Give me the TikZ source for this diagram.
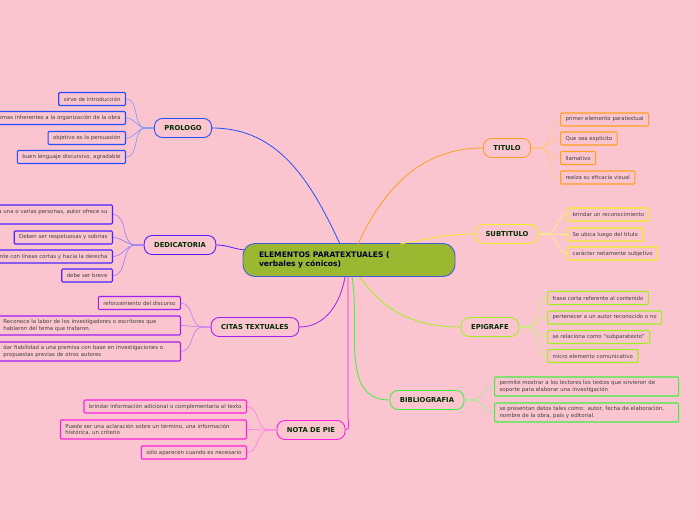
\documentclass[tikz,border=0pt]{standalone}
\usepackage{fontspec}
\setmainfont{DejaVu Sans}
\begin{document}
\begin{tikzpicture}[x=1pt,y=1pt,
  br/.style={draw=#1,line width=0.9pt,rounded corners=8pt,fill=none,minimum height=19pt,inner xsep=10pt,font=\bfseries\fontsize{6.8}{7.5}\selectfont,text=black!70!green!60!black},
  lf/.style={draw=#1,line width=1.1pt,rounded corners=1pt,minimum height=13pt,inner xsep=5pt,inner ysep=2pt,font=\fontsize{5.4}{6.4}\selectfont,text=black!75,align=left},
  mc/.style={draw=#1,line width=0.8pt},
  lc/.style={draw=#1!60!white,line width=0.6pt}]
\definecolor{bg}{HTML}{FBC5D0}
\definecolor{cP}{HTML}{2A4CFF}
\definecolor{cD}{HTML}{5020FF}
\definecolor{cC}{HTML}{A020F0}
\definecolor{cN}{HTML}{FF20E0}
\definecolor{cT}{HTML}{FFA020}
\definecolor{cS}{HTML}{F0F020}
\definecolor{cE}{HTML}{A0F020}
\definecolor{cB}{HTML}{40F040}
\definecolor{cen}{HTML}{9CB830}
\fill[bg] (0,0) rectangle (697,-520);
\useasboundingbox (0,0) rectangle (697,-520);
% central
\node[draw=cP!70!gray,line width=0.9pt,fill=cen,rounded corners=12pt,minimum width=212pt,minimum height=33pt,text width=180pt,font=\bfseries\fontsize{7.6}{9}\selectfont,align=left,text=black!80!blue] (c) at (349,-260) {ELEMENTOS PARATEXTUALES (\\verbales y cónicos)};
% branches
\node[br=cP] (P) at (183,-128) {PROLOGO};
\node[br=cD] (D) at (180,-245) {DEDICATORIA};
\node[br=cC] (C) at (255,-327) {CITAS TEXTUALES};
\node[br=cN] (N) at (311,-430) {NOTA DE PIE};
\node[br=cT] (T) at (507,-148) {TITULO};
\node[br=cS] (S) at (507,-234) {SUBTITULO};
\node[br=cE] (E) at (490,-327) {EPIGRAFE};
\node[br=cB] (B) at (427,-400) {BIBLIOGRAFIA};
\coordinate (cP0) at (340,-244);
\coordinate (cD0) at (245,-250);
\coordinate (cC0) at (345,-277);
\coordinate (cN0) at (348,-277);
\coordinate (cT0) at (358,-244);
\coordinate (cS0) at (400,-244);
\coordinate (cE0) at (360,-277);
\coordinate (cB0) at (352,-277);
\draw[mc=cP] (cP0) to[out=115,in=0] (P.east);
\draw[mc=cD] (cD0) to[out=175,in=0] (D.east);
\draw[mc=cC] (cC0) to[out=-100,in=0] (C.east);
\draw[mc=cN] (cN0) -- ++(0,-140) to[out=-90,in=0] (N.east);
\draw[mc=cT] (cT0) to[out=65,in=180] (T.west);
\draw[mc=cS] (cS0) to[out=10,in=180] (S.west);
\draw[mc=cE] (cE0) to[out=-55,in=180] (E.west);
\draw[mc=cB] (cB0) to[out=-80,in=180] (B.west);
% leaves left
\foreach \n/\y/\t in {p1/99/sirve de introducción,p2/118/Temas inherentes a la organización de la obra,p3/138/objetivo es la persuasión,p4/157/{buen lenguaje discursivo, agradable}}
  {\node[lf=cP,anchor=east] (\n) at (126,-\y) {\t}; \draw[lc=cP] (P.west) -- ++(-8,0) to[out=180,in=0] (\n.east);}
\node[lf=cD,anchor=east,minimum height=19pt,text depth=7pt] (d1) at (113,-214.5) {Dedicada a una o varias personas, autor ofrece su};
\foreach \n/\y/\t in {d2/237.5/Deben ser respetuosas y sobrias,d3/256.5/Se escribe generalmente con líneas cortas y hacia la derecha,d4/275.5/debe ser breve}
  {\node[lf=cD,anchor=east] (\n) at (113,-\y) {\t};}
\foreach \n in {d1,d2,d3,d4}{\draw[lc=cD] (D.west) -- ++(-8,0) to[out=180,in=0] (\n.east);}
\node[lf=cC,anchor=east] (c1) at (181,-303) {reforzamiento del discurso};
\node[lf=cC,anchor=east,text width=172pt,minimum height=19pt] (c2) at (181,-325.5) {Reconoce la labor de los investigadores o escritores que\\hablaron del tema que trataron.};
\node[lf=cC,anchor=east,text width=172pt,minimum height=19pt] (c3) at (181,-351.5) {dar fiabilidad a una premisa con base en investigaciones o\\propuestas previas de otros autores};
\foreach \n in {c1,c2,c3}{\draw[lc=cC] (C.west) -- ++(-8,0) to[out=180,in=0] (\n.east);}
\node[lf=cN,anchor=east] (n1) at (247,-406.5) {brindar información adicional o complementaria al texto};
\node[lf=cN,anchor=east,text width=176pt,minimum height=19pt] (n2) at (247,-429.5) {Puede ser una aclaración sobre un término, una información\\histórica, un criterio};
\node[lf=cN,anchor=east] (n3) at (247,-452.5) {sólo aparecen cuando es necesario};
\foreach \n in {n1,n2,n3}{\draw[lc=cN] (N.west) -- ++(-8,0) to[out=180,in=0] (\n.east);}
% leaves right
\foreach \n/\y/\t in {t1/119.5/primer elemento paratextual,t2/138.5/Que sea explícito,t3/158/llamativo,t4/177.5/realza su eficacia visual}
  {\node[lf=cT,anchor=west] (\n) at (560,-\y) {\t}; \draw[lc=cT] (T.east) -- ++(8,0) to[out=0,in=180] (\n.west);}
\foreach \n/\y/\t in {s1/214.5/brindar un reconocimiento,s2/234.5/Se ubica luego del título,s3/253.5/carácter netamente subjetivo}
  {\node[lf=cS,anchor=west] (\n) at (567,-\y) {\t}; \draw[lc=cS] (S.east) -- ++(8,0) to[out=0,in=180] (\n.west);}
\foreach \n/\y/\t in {e1/298/frase corta referente al contenido,e2/317.5/pertenecer a un autor reconocido o no,e3/337/se relaciona como "subparatexto",e4/356/micro elemento comunicativo}
  {\node[lf=cE,anchor=west] (\n) at (547,-\y) {\t}; \draw[lc=cE] (E.east) -- ++(8,0) to[out=0,in=180] (\n.west);}
\node[lf=cB,anchor=west,text width=174pt,minimum height=19pt] (b1) at (494,-386.5) {permite mostrar a los lectores los textos que sirvieron de\\soporte para elaborar una investigación};
\node[lf=cB,anchor=west,text width=174pt,minimum height=19pt] (b2) at (494,-412.5) {se presentan datos tales como: autor, fecha de elaboración,\\nombre de la obra, país y editorial.};
\foreach \n in {b1,b2}{\draw[lc=cB] (B.east) -- ++(8,0) to[out=0,in=180] (\n.west);}
\end{tikzpicture}
\end{document}
